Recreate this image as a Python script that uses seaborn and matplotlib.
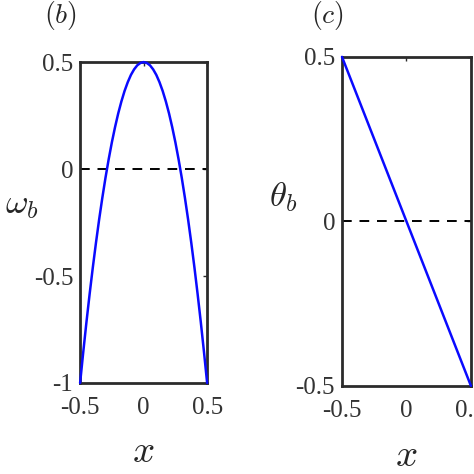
"""Panels (b) and (c): base-state profiles omega_b(x) and theta_b(x)."""

import matplotlib
matplotlib.use("Agg")
import matplotlib.pyplot as plt
import pandas as pd
import seaborn as sns

sns.set_style("white")
plt.rcParams.update({
    "font.family": ["Liberation Serif", "DejaVu Serif"],
    "mathtext.fontset": "cm",
    "axes.unicode_minus": False,
})

# values
x_vals = [-0.5, -0.475, -0.45, -0.425, -0.4, -0.375, -0.35, -0.325, -0.3, -0.275,
          -0.25, -0.225, -0.2, -0.175, -0.15, -0.125, -0.1, -0.075, -0.05, -0.025,
          0.0,
          0.025, 0.05, 0.075, 0.1, 0.125, 0.15, 0.175, 0.2, 0.225, 0.25,
          0.275, 0.3, 0.325, 0.35, 0.375, 0.4, 0.425, 0.45, 0.475, 0.5]
omega_b = [-1.0, -0.854, -0.715, -0.584, -0.46, -0.344, -0.235, -0.134, -0.04, 0.046,
           0.125, 0.196, 0.26, 0.316, 0.365, 0.406, 0.44, 0.466, 0.485, 0.496,
           0.5,
           0.496, 0.485, 0.466, 0.44, 0.406, 0.365, 0.316, 0.26, 0.196, 0.125,
           0.046, -0.04, -0.134, -0.235, -0.344, -0.46, -0.584, -0.715, -0.854, -1.0]
theta_x = [-0.5, 0.5]
theta_b = [0.5, -0.5]

x_ticks = [-0.5, 0, 0.5]
x_tick_labels = ["-0.5", "0", "0.5"]
omega_ticks = [-1, -0.5, 0, 0.5]
omega_tick_labels = ["-1", "-0.5", "0", "0.5"]
theta_ticks = [-0.5, 0, 0.5]
theta_tick_labels = ["-0.5", "0", "0.5"]

df_b = pd.DataFrame({"x": x_vals, "y": omega_b})
df_c = pd.DataFrame({"x": theta_x, "y": theta_b})

BLUE = "#0a0aff"
SPINE = "#2b2b2b"

fig = plt.figure(figsize=(4.74, 4.74), dpi=100)
ax_b = fig.add_axes([0.169, 0.192, 0.268, 0.677])
ax_c = fig.add_axes([0.7215, 0.186, 0.272, 0.694])

panels = [
    (ax_b, df_b, omega_ticks, omega_tick_labels, (-1, 0.5), r"$\omega_b$", r"$(b)$",
     (-0.457, 0.555), (-0.157, 1.145), -0.218),
    (ax_c, df_c, theta_ticks, theta_tick_labels, (-0.5, 0.5), r"$\theta_b$", r"$(c)$",
     (-0.457, 0.574), (-0.109, 1.125), -0.216),
]

for ax, df, yt, ytl, ylim, ylab, tag, ylab_pos, tag_pos, xlab_y in panels:
    ax.axhline(0, color="black", linewidth=1.4, linestyle=(0, (5, 4)), zorder=1)
    sns.lineplot(data=df, x="x", y="y", ax=ax, color=BLUE, linewidth=1.8,
                 zorder=3, clip_on=False)
    ax.set_xlim(-0.5, 0.5)
    ax.set_ylim(*ylim)
    ax.set_xticks(x_ticks, x_tick_labels)
    ax.set_yticks(yt, ytl)
    ax.tick_params(axis="both", direction="in", length=3, width=1.0,
                   top=True, right=True, labelsize=18, colors=SPINE,
                   labelcolor="#333333")
    ax.tick_params(axis="x", pad=10)
    ax.tick_params(axis="y", pad=5)
    for sp in ax.spines.values():
        sp.set_visible(True)
        sp.set_linewidth(2.0)
        sp.set_color(SPINE)
    ax.set_xlabel(r"$x$", fontsize=28, va="center")
    ax.xaxis.set_label_coords(0.5, xlab_y)
    ax.set_ylabel(ylab, fontsize=25, rotation=0, va="center", ha="center")
    ax.yaxis.set_label_coords(*ylab_pos)
    ax.text(tag_pos[0], tag_pos[1], tag, transform=ax.transAxes,
            fontsize=20, ha="center", va="center")

fig.savefig("out.png", dpi=100)
